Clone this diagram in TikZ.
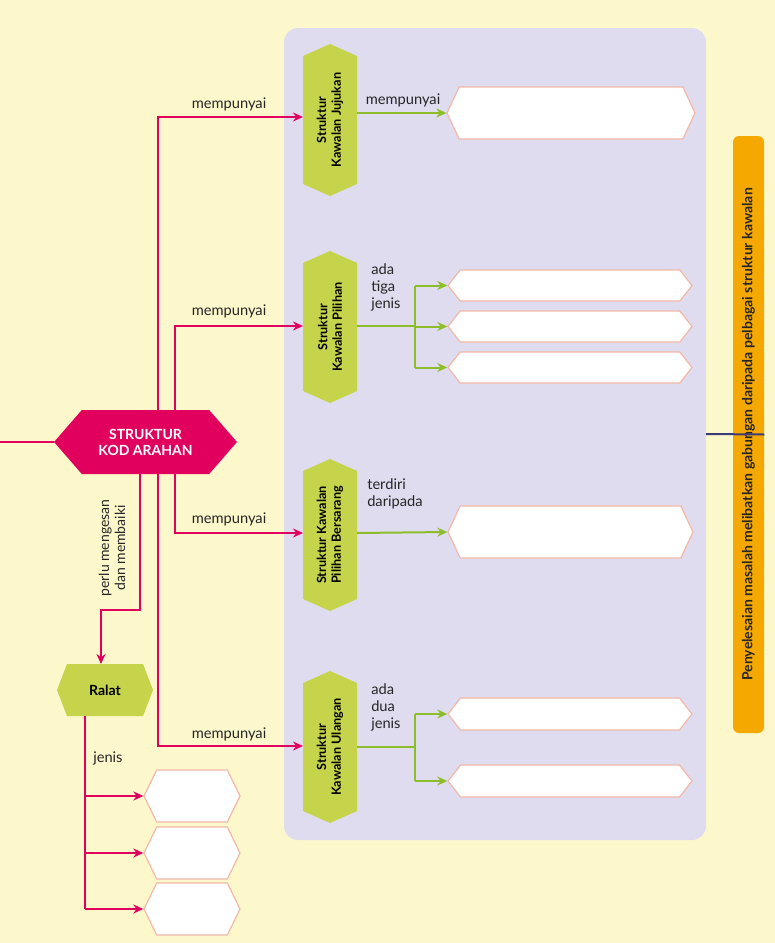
\documentclass[tikz,border=0pt]{standalone}
\usepackage{fontspec}
\setmainfont{Lato}
\usetikzlibrary{shapes.symbols,arrows.meta}
\newdimen\pxu \pxu=0.75pt
\definecolor{bgY}{HTML}{FDF8CC}
\definecolor{panel}{HTML}{E0DCEF}
\definecolor{mag}{HTML}{E2005E}
\definecolor{grn}{HTML}{C5D44A}
\definecolor{grnl}{HTML}{8DBE2A}
\definecolor{pinkb}{HTML}{F2B8A8}
\definecolor{orng}{HTML}{F5A800}
\definecolor{navy}{HTML}{3C3A78}
\tikzset{
 hexw/.style={signal, signal to=east and west, draw=pinkb, line width=1.2\pxu, fill=white, inner sep=0pt, minimum width=#1},
 vhex/.style={signal, signal to=east and west, fill=grn, rotate=90, inner sep=0pt, minimum width=152\pxu, minimum height=54\pxu, signal pointer angle=132, font=\bfseries\fontsize{9.5}{11}\selectfont, align=center},
 ma/.style={draw=mag, line width=1.5pt, -{Stealth[length=7.5pt,width=6.75pt]}},
 ml/.style={draw=mag, line width=1.5pt},
 ga/.style={draw=grnl, line width=1.5pt, -{Stealth[length=7.5pt,width=6.75pt]}},
 gl/.style={draw=grnl, line width=1.5pt},
 lbl/.style={font=\fontsize{11}{13}\selectfont, text=black!85, inner sep=0pt, align=left},
}
\begin{document}
\begin{tikzpicture}[x=\pxu,y=-\pxu]
\useasboundingbox (0,0) rectangle (775,943);
\fill[bgY] (0,0) rectangle (775,943);
\fill[panel, rounded corners=14\pxu] (284,28) rectangle (706,840);
% orange bar
\node[fill=orng, rounded corners=6\pxu, minimum width=597\pxu, minimum height=31\pxu, inner sep=0pt, rotate=90, font=\bfseries\fontsize{10.5}{12}\selectfont, text=black!85] (bar) at (748.5,434.5) {Penyelesaian masalah melibatkan gabungan daripada pelbagai struktur kawalan};
\coordinate (pr) at (706,434);
\draw[navy, line width=1.5pt] (pr) -- (bar.south);
% central
\node[signal, signal to=east and west, fill=mag, minimum width=183\pxu, minimum height=64\pxu, signal pointer angle=98, inner sep=0pt, text=white, font=\bfseries\fontsize{10.5}{12}\selectfont, align=center] (c) at (145.5,442) {STRUKTUR\\KOD ARAHAN};
\coordinate (le) at (0,442);
\draw[ml] (le) -- (c.west);
% green vertical
\node[vhex] (g1) at (330,120) {Struktur\\Kawalan Jujukan};
\node[vhex] (g2) at (330,327) {Struktur\\Kawalan Pilihan};
\node[vhex] (g3) at (330,535) {Struktur Kawalan\\Pilihan Bersarang};
\node[vhex] (g4) at (330,747) {Struktur\\Kawalan Ulangan};
% magenta connectors
\draw[ma] (158,410) |- (303,117);
\draw[ma] (175,410) |- (303,326);
\draw[ma] (175,474) |- (303,533);
\draw[ma] (158,474) |- (303,746);
\node[lbl] at (229,104) {mempunyai};
\node[lbl] at (229,311) {mempunyai};
\node[lbl] at (229,519) {mempunyai};
\node[lbl] at (229,734) {mempunyai};
% Ralat
\node[signal, signal to=east and west, fill=grn, minimum width=96\pxu, minimum height=52\pxu, signal pointer angle=138, inner sep=0pt, font=\bfseries\fontsize{10.5}{12}\selectfont] (r) at (105,690) {Ralat};
\draw[ma] (140,474) -- (140,610) -- (101,610) -- (101,664);
\node[lbl, rotate=90, align=center, font=\fontsize{10.5}{12}\selectfont] at (112,548) {perlu mengesan\\dan membaiki};
% ralat boxes
\node[hexw=96\pxu, minimum height=52\pxu, signal pointer angle=128] (r1) at (192,796) {};
\node[hexw=96\pxu, minimum height=52\pxu, signal pointer angle=128] (r2) at (192,853) {};
\node[hexw=96\pxu, minimum height=52\pxu, signal pointer angle=128] (r3) at (192,909) {};
\draw[ml] (85,716) -- (85,909);
\draw[ma] (85,796) -- (r1.west);
\draw[ma] (85,853) -- (r2.west);
\draw[ma] (85,909) -- (r3.west);
\node[lbl, anchor=west] at (93,758) {jenis};
% right white boxes
\node[hexw=248\pxu, minimum height=52\pxu, signal pointer angle=130] (b1) at (571,113) {};
\node[hexw=244\pxu, minimum height=31\pxu, signal pointer angle=104] (b21) at (570,285.5) {};
\node[hexw=244\pxu, minimum height=31\pxu, signal pointer angle=104] (b22) at (570,326.5) {};
\node[hexw=244\pxu, minimum height=31\pxu, signal pointer angle=104] (b23) at (570,367.5) {};
\node[hexw=245\pxu, minimum height=52\pxu, signal pointer angle=130] (b3) at (570.5,532) {};
\node[hexw=244\pxu, minimum height=32\pxu, signal pointer angle=104] (b41) at (570,714) {};
\node[hexw=244\pxu, minimum height=32\pxu, signal pointer angle=104] (b42) at (570,781) {};
% green connectors
\draw[ga] (357,113) -- (b1.west);
\node[lbl] at (403,100) {mempunyai};
\draw[gl] (357,326) -- (415,326);
\draw[gl] (415,285.5) -- (415,367.5);
\draw[ga] (415,285.5) -- (b21.west);
\draw[ga] (415,326.5) -- (b22.west);
\draw[ga] (415,367.5) -- (b23.west);
\node[lbl, anchor=north west] at (371,263) {ada\\tiga\\jenis};
\draw[ga] (357,533) -- (b3.west);
\node[lbl, anchor=north west] at (367,478) {terdiri\\daripada};
\draw[gl] (357,747) -- (415,747);
\draw[gl] (415,714) -- (415,781);
\draw[ga] (415,714) -- (b41.west);
\draw[ga] (415,781) -- (b42.west);
\node[lbl, anchor=north west] at (371,683) {ada\\dua\\jenis};
\end{tikzpicture}
\end{document}
